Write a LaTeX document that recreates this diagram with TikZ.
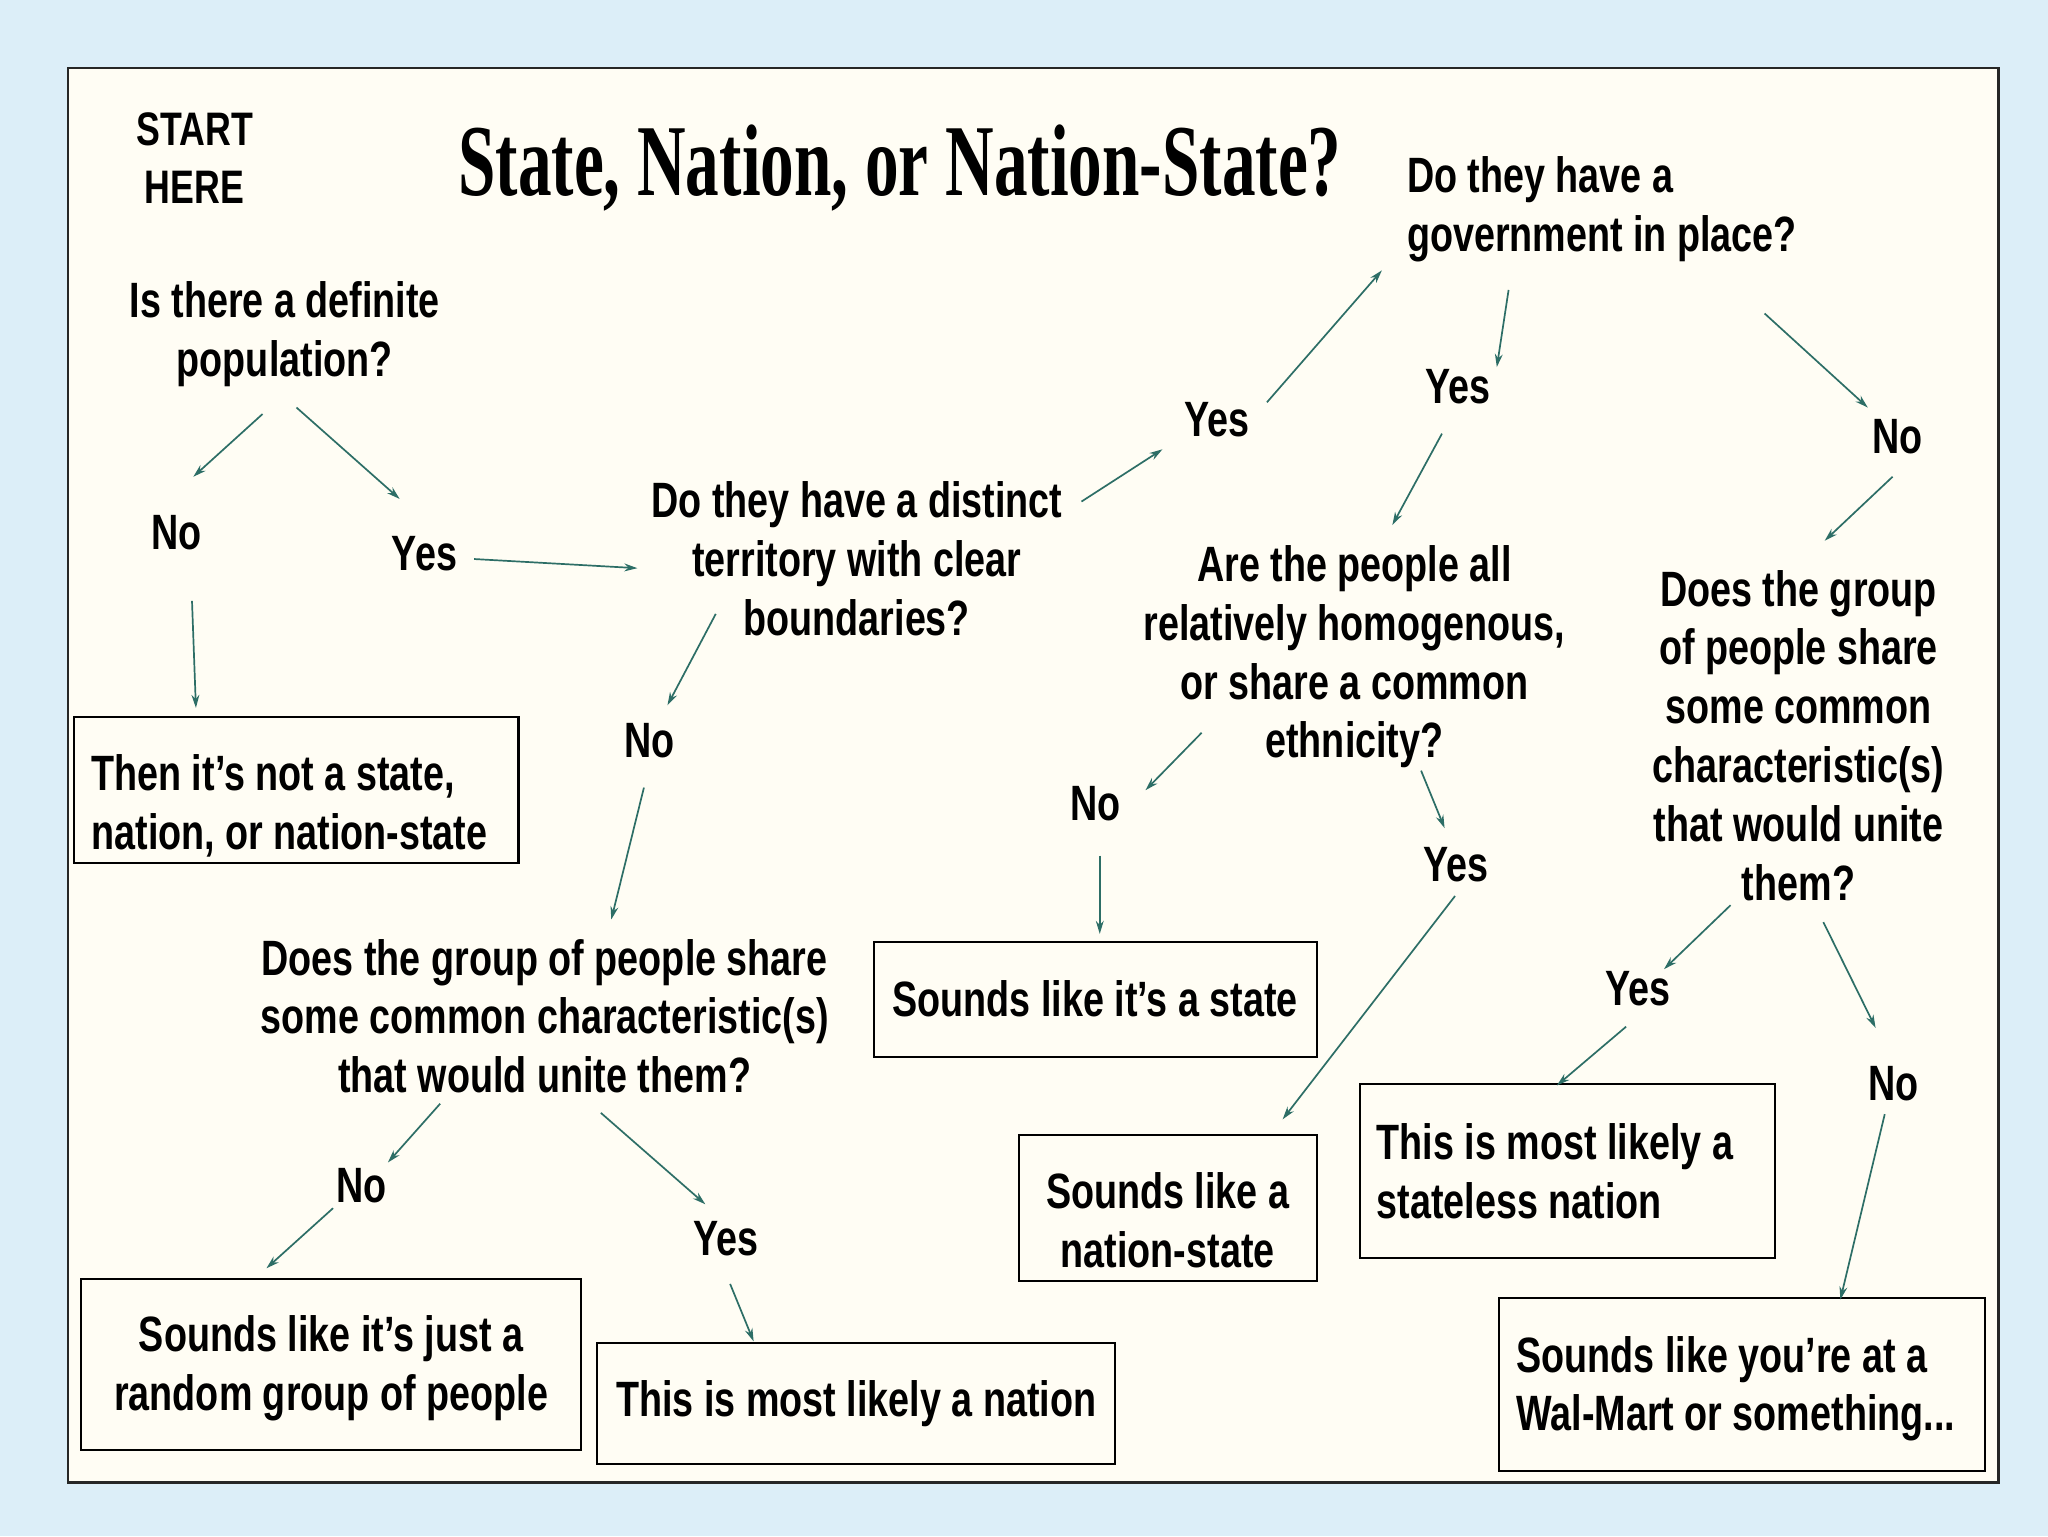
\documentclass[tikz,border=0pt]{standalone}
\usepackage{fontspec}
\newfontfamily\qf[FakeStretch=0.76]{Liberation Sans}
\newfontfamily\ttlf[FakeStretch=0.66]{Liberation Serif}
\usetikzlibrary{arrows.meta}
\definecolor{bgblue}{HTML}{DCEEF8}
\definecolor{panelc}{HTML}{FFFDF4}
\definecolor{arrowc}{HTML}{2D6E66}
\begin{document}
\begin{tikzpicture}[x=1pt,y=-1pt,
  q/.style={font=\qf\bfseries\fontsize{38}{45}\selectfont, align=center, inner sep=0pt},
  lbl/.style={font=\qf\bfseries\fontsize{38}{45}\selectfont, inner sep=0pt},
  box/.style={draw=black, line width=1.6pt, font=\qf\bfseries\fontsize{38}{45}\selectfont, inner xsep=13pt, inner ysep=0pt},
  arr/.style={draw=arrowc, line width=1.3pt, -{Stealth[length=10pt,width=6pt]}}]
\fill[bgblue] (0,0) rectangle (1568,1176);
\path[use as bounding box] (0,0) rectangle (1568,1176);
\draw[fill=panelc, line width=2pt, draw=black!85] (52,52) rectangle (1530,1135);

% title and start
\node[q, font=\qf\bfseries\fontsize{36}{44}\selectfont] (start) at (149,121) {START\\HERE};
\node[inner sep=0pt, font=\ttlf\bfseries\fontsize{78}{80}\selectfont] (title) at (689,129) {State, Nation, or Nation-State?};

% questions
\node[q] (q1) at (218,256) {Is there a definite\\population?};
\node[q] (q2) at (656,428) {Do they have a distinct\\territory with clear\\boundaries?};
\node[q, align=left] (q3) at (1226.5,160.5) {Do they have a\\government in place?};
\node[q] (q4) at (1037,503) {Are the people all\\relatively homogenous,\\or share a common\\ethnicity?};
\node[q] (q5) at (1377,563) {Does the group\\of people share\\some common\\characteristic(s)\\that would unite\\them?};
\node[q] (q6) at (417,778) {Does the group of people share\\some common characteristic(s)\\that would unite them?};

% labels
\node[lbl] (no1) at (135,408) {No};
\node[lbl] (yes1) at (325,424) {Yes};
\node[lbl] (no2) at (497,567) {No};
\node[lbl] (yes2) at (932,321) {Yes};
\node[lbl] (yes3) at (1116,296) {Yes};
\node[lbl] (no3) at (1453,334) {No};
\node[lbl] (no4) at (277,908) {No};
\node[lbl] (yes4) at (556,948) {Yes};
\node[lbl] (no5) at (839,615) {No};
\node[lbl] (yes5) at (1115,662) {Yes};
\node[lbl] (yes6) at (1254,757) {Yes};
\node[lbl] (no6) at (1450,830) {No};

% result boxes
\node[box, minimum width=340pt, minimum height=112pt, text width=314pt, align=flush left] (b1) at (227,605) {\rule{0pt}{52pt}Then it’s not a state,\\nation, or nation-state};
\node[box, minimum width=383pt, minimum height=131pt, align=center] (b2) at (253.5,1044.5) {\rule{0pt}{34pt}Sounds like it’s just a\\random group of people};
\node[box, minimum width=397pt, minimum height=93pt, align=center] (b3) at (655.5,1074.5) {This is most likely a nation};
\node[box, minimum width=339pt, minimum height=88pt, align=center] (b4) at (838.5,765) {Sounds like it’s a state};
\node[box, minimum width=228pt, minimum height=112pt, align=center] (b5) at (894,925) {\rule{0pt}{46pt}Sounds like a\\nation-state};
\node[box, minimum width=318pt, minimum height=133pt, text width=292pt, align=flush left] (b6) at (1200,896.5) {This is most likely a\\stateless nation};
\node[box, minimum width=372pt, minimum height=132pt, text width=346pt, align=flush left] (b7) at (1334,1060) {\rule{0pt}{34pt}Sounds like you’re at a\\Wal-Mart or something...};

% connectors
\draw[arr] ([shift={(-17,61)}]q1.center) -- ([shift={(13,-43)}]no1.center);
\draw[arr] ([shift={(9,56)}]q1.center) -- ([shift={(-19,-42)}]yes1.center);
\draw[arr] ([shift={(12,52)}]no1.center) -- ([shift={(-77,-63)}]b1.center);
\draw[arr] ([shift={(38,4)}]yes1.center) -- ([shift={(-168,7)}]q2.center);
\draw[arr] ([shift={(172,-44)}]q2.center) -- ([shift={(-42,23)}]yes2.center);
\draw[arr] ([shift={(38,-13)}]yes2.center) -- ([shift={(-168.5,46.5)}]q3.center);
\draw[arr] ([shift={(-71.5,61.5)}]q3.center) -- ([shift={(30,-15)}]yes3.center);
\draw[arr] ([shift={(-12,36)}]yes3.center) -- ([shift={(29,-101)}]q4.center);
\draw[arr] ([shift={(124.5,79.5)}]q3.center) -- ([shift={(-23,-22)}]no3.center);
\draw[arr] ([shift={(-4,31)}]no3.center) -- ([shift={(20,-149)}]q5.center);
\draw[arr] ([shift={(-108,42)}]q2.center) -- ([shift={(14,-27)}]no2.center);
\draw[arr] ([shift={(-4,36)}]no2.center) -- ([shift={(51,-74)}]q6.center);
\draw[arr] ([shift={(-80,67)}]q6.center) -- ([shift={(20,-18)}]no4.center);
\draw[arr] ([shift={(-22,17)}]no4.center) -- ([shift={(-49.5,-73.5)}]b2.center);
\draw[arr] ([shift={(43,74)}]q6.center) -- ([shift={(-16,-26)}]yes4.center);
\draw[arr] ([shift={(3,35)}]yes4.center) -- ([shift={(-78.5,-47.5)}]b3.center);
\draw[arr] ([shift={(-117,58)}]q4.center) -- ([shift={(38,-10)}]no5.center);
\draw[arr] ([shift={(3,40)}]no5.center) -- ([shift={(3.5,-50)}]b4.center);
\draw[arr] ([shift={(51,87)}]q4.center) -- ([shift={(-9,-28)}]yes5.center);
\draw[arr] ([shift={(-1,24)}]yes5.center) -- ([shift={(88,-68)}]b5.center);
\draw[arr] ([shift={(-52,130)}]q5.center) -- ([shift={(20,-15)}]yes6.center);
\draw[arr] ([shift={(-9,29)}]yes6.center) -- ([shift={(-8,-65.5)}]b6.center);
\draw[arr] ([shift={(19,143)}]q5.center) -- ([shift={(-14,-43)}]no6.center);
\draw[arr] ([shift={(-7,23)}]no6.center) -- ([shift={(75,-65)}]b7.center);
\end{tikzpicture}
\end{document}
